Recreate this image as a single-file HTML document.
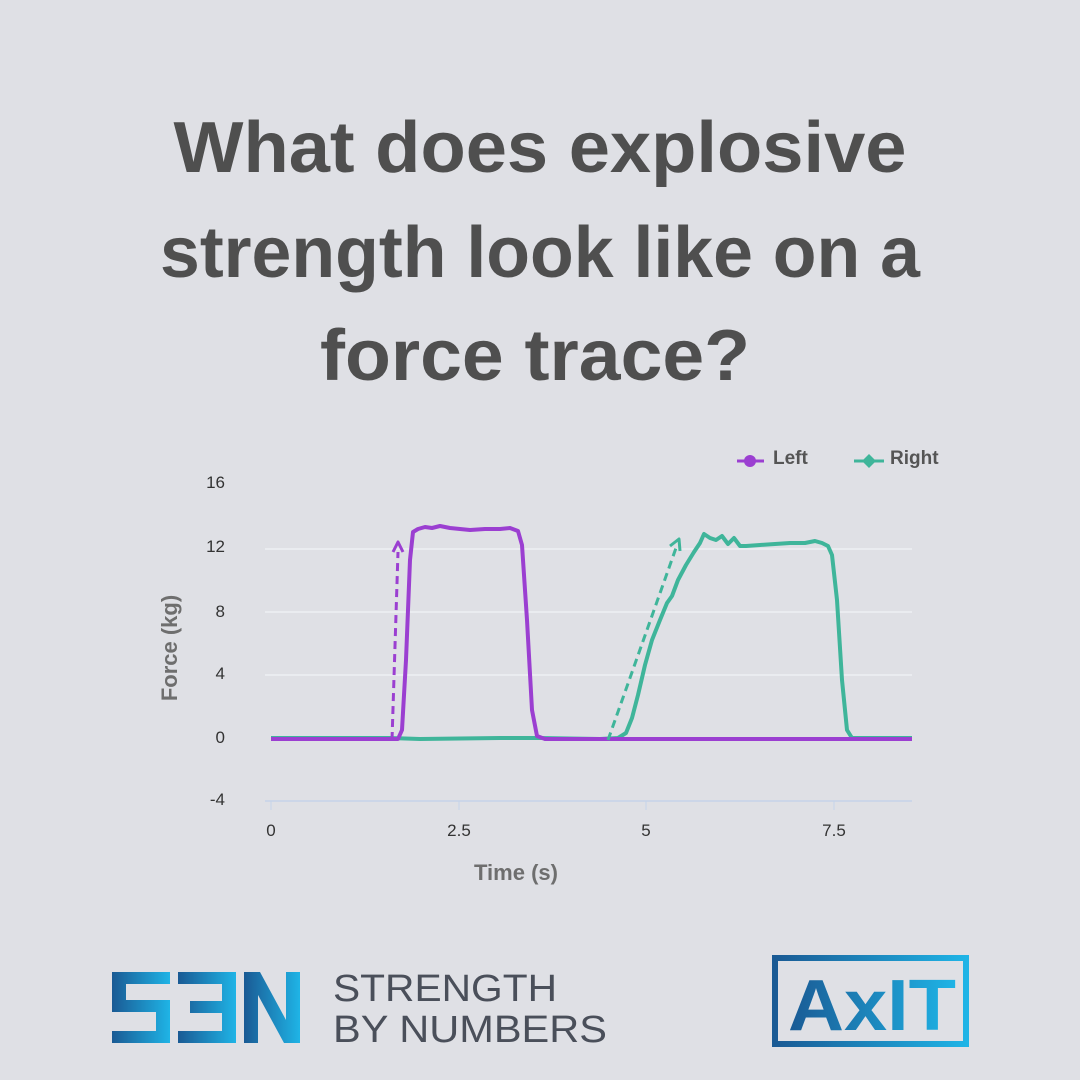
<!DOCTYPE html>
<html><head><meta charset="utf-8"><style>
html,body{margin:0;padding:0;background:#dfe0e5;}
svg{display:block;}
</style></head><body>
<svg width="1080" height="1080" viewBox="0 0 1080 1080" xmlns="http://www.w3.org/2000/svg">
<defs>
<linearGradient id="bl" x1="0" x2="1" y1="0" y2="0"><stop offset="0" stop-color="#1a5a94"/><stop offset="1" stop-color="#1fb4e6"/></linearGradient>
</defs>
<rect width="1080" height="1080" fill="#dfe0e5"/>
<g font-family="Liberation Sans, sans-serif" font-weight="bold" fill="#4f4f4f" font-size="72" text-anchor="middle">
<text x="540" y="172" textLength="733" lengthAdjust="spacingAndGlyphs">What does explosive</text>
<text x="540" y="277" textLength="760" lengthAdjust="spacingAndGlyphs">strength look like on a</text>
<text x="535" y="380" textLength="430" lengthAdjust="spacingAndGlyphs">force trace?</text>
</g>
<g stroke="#eef0f4" stroke-width="1.5">
<line x1="265" y1="549" x2="912" y2="549"/>
<line x1="265" y1="612" x2="912" y2="612"/>
<line x1="265" y1="675" x2="912" y2="675"/>
</g>
<line x1="265" y1="801" x2="912" y2="801" stroke="#c5d3ea" stroke-width="1.5"/>
<g stroke="#c5d3ea" stroke-width="1"><line x1="271" y1="801" x2="271" y2="810"/><line x1="459" y1="801" x2="459" y2="810"/><line x1="646" y1="801" x2="646" y2="810"/><line x1="834" y1="801" x2="834" y2="810"/></g>
<g font-family="Liberation Sans, sans-serif" font-size="17" fill="#333">
<g text-anchor="end"><text x="225" y="488">16</text><text x="225" y="552">12</text><text x="225" y="617">8</text><text x="225" y="679">4</text><text x="225" y="743">0</text><text x="225" y="805">-4</text></g>
<g text-anchor="middle"><text x="271" y="836">0</text><text x="459" y="836">2.5</text><text x="646" y="836">5</text><text x="834" y="836">7.5</text></g>
</g>
<text x="516" y="880" font-family="Liberation Sans, sans-serif" font-weight="bold" font-size="22" fill="#6e6e6e" text-anchor="middle">Time (s)</text>
<text transform="translate(177,648) rotate(-90)" font-family="Liberation Sans, sans-serif" font-weight="bold" font-size="22" fill="#6e6e6e" text-anchor="middle">Force (kg)</text>
<line x1="737" y1="461" x2="764" y2="461" stroke="#9b3fd1" stroke-width="3"/><circle cx="750" cy="461" r="6" fill="#9b3fd1"/>
<text x="773" y="464" font-family="Liberation Sans, sans-serif" font-weight="bold" font-size="19" fill="#555">Left</text>
<line x1="854" y1="461" x2="884" y2="461" stroke="#3fb59a" stroke-width="3"/><path d="M869 454 L876 461 L869 468 L862 461Z" fill="#3fb59a"/>
<text x="890" y="464" font-family="Liberation Sans, sans-serif" font-weight="bold" font-size="19" fill="#555">Right</text>
<g fill="none" stroke-width="4" stroke-linejoin="round">
<path stroke="#3fb59a" d="M271 738 L390 738 L420 739 L500 738 L540 738 L600 739 L618 738 L626 733 L632 718 L638 695 L645 665 L652 640 L660 620 L667 603 L672 596 L678 580 L686 565 L694 552 L700 543 L704 534 L710 538 L716 540 L722 536 L728 544 L734 538 L740 546 L746 546 L760 545 L775 544 L790 543 L805 543 L815 541 L822 543 L828 546 L832 555 L837 600 L842 680 L847 730 L852 738 L912 738"/>
<path stroke="#9b3fd1" d="M271 739 L398 739 L402 730 L406 660 L410 560 L413 532 L418 529 L425 527 L432 528 L440 526 L450 528 L470 530 L485 529 L500 529 L510 528 L518 531 L522 545 L527 620 L532 710 L537 736 L545 739 L912 739"/>
<path stroke="#9b3fd1" stroke-width="3" stroke-dasharray="8,5" d="M392 740 L398 552"/>
<path stroke="#9b3fd1" stroke-width="3" d="M393 552 L398 542 L403 552"/>
<path stroke="#3fb59a" stroke-width="3" stroke-dasharray="8,5" d="M608 740 L676 548"/>
<path stroke="#3fb59a" stroke-width="3" d="M670 546 L679 539 L680 551"/>
</g>
<g fill="url(#bl)">
<path d="M112 972 H170 V984 H126 V1000 H170 V1043 H112 V1031 H156 V1012 H112Z"/>
<path d="M178 972 H236 V1043 H178 V1031 H222 V1013 H190 V1001 H222 V984 H178Z"/>
<path d="M244 972 H260 L286 1020 V972 H300 V1043 H284 L258 995 V1043 H244Z"/>
</g>
<g font-family="Liberation Sans, sans-serif" font-size="38" fill="#4a4f5a">
<text x="333" y="1001" textLength="224" lengthAdjust="spacingAndGlyphs">STRENGTH</text>
<text x="333" y="1042" textLength="274" lengthAdjust="spacingAndGlyphs">BY NUMBERS</text>
</g>
<rect x="775" y="958" width="191" height="86" fill="none" stroke="url(#bl)" stroke-width="6"/>
<g fill="url(#bl)" font-family="Liberation Sans, sans-serif" font-weight="bold">
<text x="788" y="1030" font-size="72" textLength="168" lengthAdjust="spacingAndGlyphs">AxIT</text>
</g>
</svg>
</body></html>
